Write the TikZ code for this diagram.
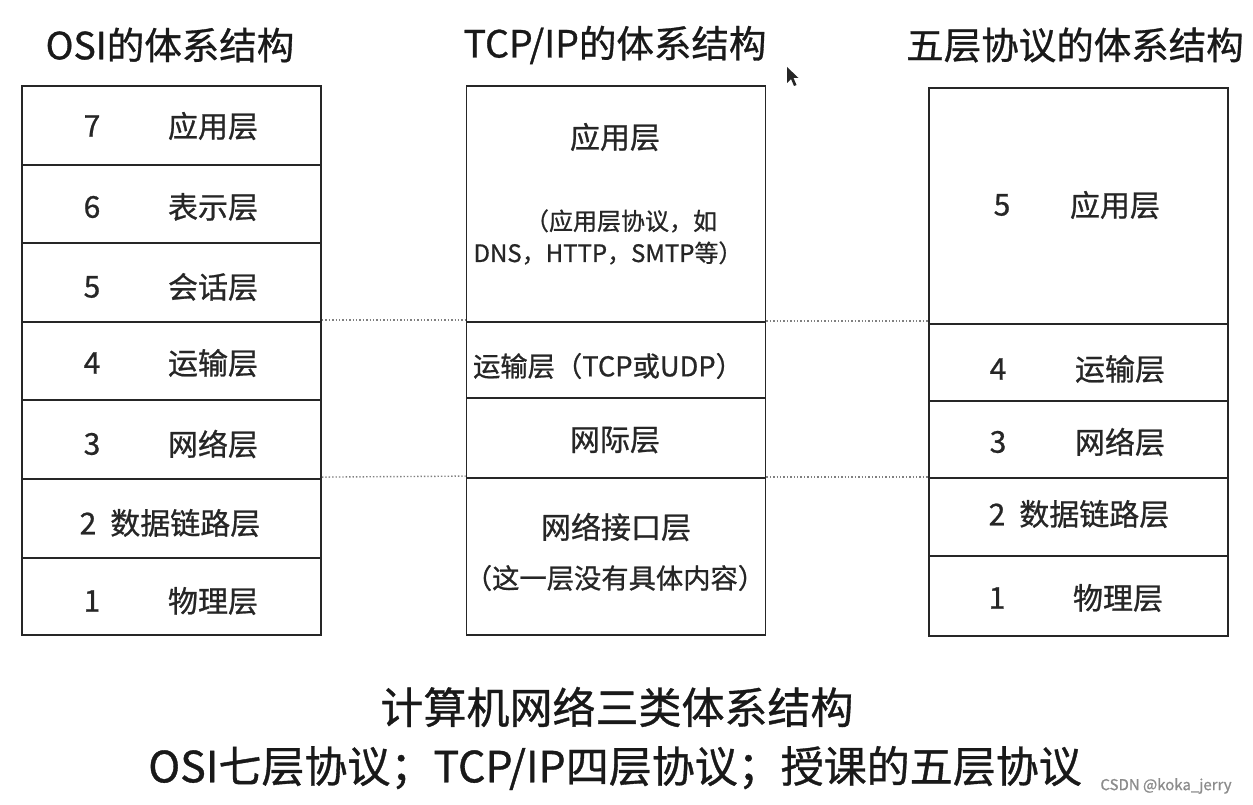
\documentclass[tikz,border=0pt]{standalone}
\usepackage{fontspec}
\setmainfont{Noto Sans CJK SC}[FakeBold=0.8]
\tikzset{
  cell/.style={draw=black!85, line width=1.8pt, minimum width=299pt, inner sep=0pt},
  lbl/.style={font=\fontsize{30pt}{35pt}\selectfont, text=black!85, inner sep=0pt},
  lblsm/.style={font=\fontsize{27.3pt}{33pt}\selectfont, text=black!85, inner sep=0pt},
  small/.style={font=\fontsize{24pt}{29pt}\selectfont, text=black!85, inner sep=0pt},
  title/.style={font=\fontsize{37.5pt}{44pt}\selectfont, text=black!90, inner sep=0pt},
  bottom/.style={font=\fontsize{43pt}{50pt}\selectfont, text=black!90, inner sep=0pt},
  dotline/.style={draw=black!50, line width=1.4pt, dotted},
}
\begin{document}
\begin{tikzpicture}[x=1pt,y=-1pt]
\useasboundingbox (0,0) rectangle (1253,805);
\fill[white] (0,0) rectangle (1253,805);
% titles
\node[title] (t1) at (170,45) {OSI的体系结构};
\node[title] (t2) at (615,45) {TCP/IP的体系结构};
\node[title] (t3) at (1075,45) {五层协议的体系结构};
% OSI column
\node[cell, minimum height=79pt] (o7) at (171.5,125.5) {};
\node[cell, minimum height=78pt] (o6) at (171.5,204) {};
\node[cell, minimum height=79pt] (o5) at (171.5,282.5) {};
\node[cell, minimum height=78pt] (o4) at (171.5,361) {};
\node[cell, minimum height=79pt] (o3) at (171.5,439.5) {};
\node[cell, minimum height=79pt] (o2) at (171.5,518.5) {};
\node[cell, minimum height=77pt] (o1) at (171.5,596.5) {};
\node[lbl] (o7n) at (92,126) {7};  \node[lbl] (o7t) at (213,126) {应用层};
\node[lbl] (o6n) at (92,207) {6};  \node[lbl] (o6t) at (213,207) {表示层};
\node[lbl] (o5n) at (92,287) {5};  \node[lbl] (o5t) at (213,287) {会话层};
\node[lbl] (o4n) at (92,363) {4};  \node[lbl] (o4t) at (213,363) {运输层};
\node[lbl] (o3n) at (92,444) {3};  \node[lbl] (o3t) at (213,444) {网络层};
\node[lbl] (o2t) at (170,523) {2\hspace{14pt}数据链路层};
\node[lbl] (o1n) at (92,601) {1};  \node[lbl] (o1t) at (213,601) {物理层};
% TCP/IP column
\node[cell, minimum height=236pt] (p4) at (616,204) {};
\node[cell, minimum height=76pt] (p3) at (616,360) {};
\node[cell, minimum height=80pt] (p2) at (616,438) {};
\node[cell, minimum height=157pt] (p1) at (616,556.5) {};
\node[lbl] (p4t) at (615,137) {应用层};
\node[small] (p4a) at (621,221) {（应用层协议，如};
\node[small] (p4b) at (608,253) {DNS，HTTP，SMTP等）};
\node[lblsm] (p3t) at (608,366) {运输层（TCP或UDP）};
\node[lbl] (p2t) at (615,440) {网际层};
\node[lbl] (p1t) at (616,527) {网络接口层};
\node[lblsm] (p1a) at (615,578) {（这一层没有具体内容）};
% five-layer column
\node[cell, minimum height=236pt] (f5) at (1078.5,206) {};
\node[cell, minimum height=77pt] (f4) at (1078.5,362.5) {};
\node[cell, minimum height=77pt] (f3) at (1078.5,439.5) {};
\node[cell, minimum height=78pt] (f2) at (1078.5,517) {};
\node[cell, minimum height=80pt] (f1) at (1078.5,596) {};
\node[lbl] (f5n) at (1002,205) {5};  \node[lbl] (f5t) at (1115,205) {应用层};
\node[lbl] (f4n) at (998,369) {4};   \node[lbl] (f4t) at (1120,369) {运输层};
\node[lbl] (f3n) at (998,442) {3};   \node[lbl] (f3t) at (1120,442) {网络层};
\node[lbl] (f2t) at (1079,514) {2\hspace{14pt}数据链路层};
\node[lbl] (f1n) at (997,598) {1};   \node[lbl] (f1t) at (1118,598) {物理层};
% dotted correspondences
\draw[dotline] ([yshift=1pt]o4.north east) -- ([yshift=1pt]p3.north west);
\draw[dotline] ([yshift=1pt]o2.north east) -- ([yshift=1pt]p1.north west);
\draw[dotline] (p3.north east) -- (p3.north east -| f4.west);
\draw[dotline] (p1.north east) -- (p1.north east -| f2.west);
% cursor
\fill[black!85] (787,67) -- (787,83) -- (791,79) -- (794,86) -- (796.5,85) -- (793.5,78) -- (798.5,78) -- cycle;
% bottom captions
\node[bottom] (c1) at (617,707) {计算机网络三类体系结构};
\node[bottom] (c2) at (615,768) {OSI七层协议；TCP/IP四层协议；授课的五层协议};
\node[font=\fontsize{15pt}{18pt}\selectfont, text=black!45, inner sep=0pt] (wm) at (1166,786) {CSDN @koka\_jerry};
\end{tikzpicture}
\end{document}
